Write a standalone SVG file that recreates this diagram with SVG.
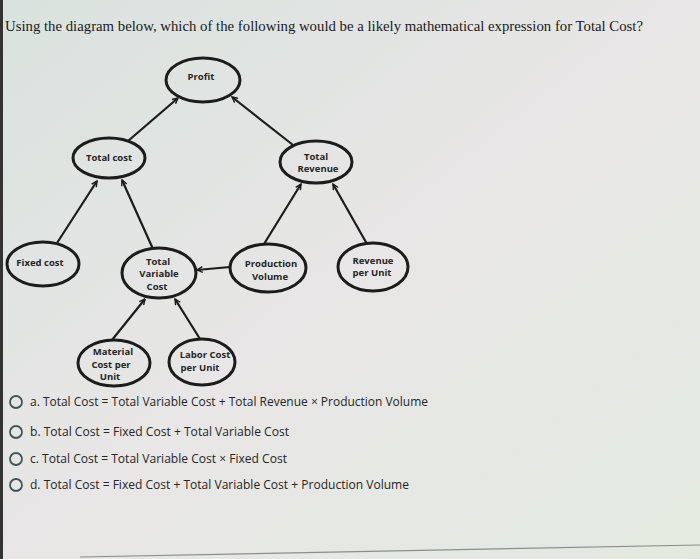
<svg xmlns="http://www.w3.org/2000/svg" width="700" height="559" viewBox="0 0 700 559">
<defs>
<linearGradient id="bg" x1="0" y1="0" x2="1" y2="1">
<stop offset="0" stop-color="#d9e2de"/>
<stop offset="0.5" stop-color="#e8e6e6"/>
<stop offset="1" stop-color="#e2eadf"/>
</linearGradient>
<marker id="ah" viewBox="0 0 10 10" refX="9" refY="5" markerWidth="7" markerHeight="7" orient="auto" markerUnits="userSpaceOnUse">
<path d="M1,1 L9,5 L1,9" fill="none" stroke="#1c1c1c" stroke-width="2"/>
</marker>
</defs>
<style>
.node ellipse{fill:none;stroke:#1c1c1c;stroke-width:3}
.node text{font-family:"Open Sans","Liberation Sans",sans-serif;font-weight:bold;font-size:9.5px;fill:#262626;text-anchor:middle}
.edge{stroke:#1c1c1c;stroke-width:2.2;fill:none;marker-end:url(#ah)}
.opt{font-family:"Open Sans","Liberation Sans",sans-serif;font-size:12.5px;fill:#262626}
.radio{fill:none;stroke:#3e5656;stroke-width:1.8}
</style>
<rect width="700" height="559" fill="url(#bg)"/>
<line x1="1.5" y1="0" x2="1.5" y2="559" stroke="#333" stroke-width="3"/>
<line x1="80" y1="557" x2="700" y2="545" stroke="#8a8f8c" stroke-width="1.2"/>
<text x="5" y="31" font-family="'Liberation Serif',serif" font-size="14.5" fill="#1a1a1a" textLength="638" lengthAdjust="spacingAndGlyphs">Using the diagram below, which of the following would be a likely mathematical expression for Total Cost?</text>

<g id="connectors">
<line class="edge" x1="57" y1="243" x2="97" y2="181"/>
<line class="edge" x1="153" y1="249" x2="122" y2="180"/>
<line class="edge" x1="128" y1="141" x2="178" y2="98"/>
<line class="edge" x1="293" y1="145" x2="232" y2="97"/>
<line class="edge" x1="264" y1="244" x2="301" y2="184"/>
<line class="edge" x1="367" y1="244" x2="333" y2="184"/>
<line class="edge" x1="230" y1="267" x2="197" y2="270"/>
<line class="edge" x1="112" y1="340" x2="145" y2="299"/>
<line class="edge" x1="200" y1="339" x2="175" y2="299"/>
</g>

<g id="profit" class="node"><ellipse cx="203" cy="80" rx="37" ry="22"/><text x="201" y="80">Profit</text></g>
<g id="total-cost" class="node"><ellipse cx="109" cy="158" rx="36" ry="20"/><text x="109" y="161">Total cost</text></g>
<g id="total-revenue" class="node"><ellipse cx="316" cy="162" rx="36" ry="21"/><text x="316" y="160">Total</text><text x="318" y="172">Revenue</text></g>
<g id="fixed-cost" class="node"><ellipse cx="43" cy="264" rx="36" ry="22"/><text x="40" y="266">Fixed cost</text></g>
<g id="total-variable-cost" class="node"><ellipse cx="159" cy="273" rx="37" ry="25"/><text x="158" y="265">Total</text><text x="159" y="277">Variable</text><text x="157" y="290">Cost</text></g>
<g id="production-volume" class="node"><ellipse cx="268" cy="268" rx="38" ry="24"/><text x="271" y="267">Production</text><text x="270" y="280">Volume</text></g>
<g id="revenue-per-unit" class="node"><ellipse cx="373" cy="267" rx="35" ry="24"/><text x="373" y="264">Revenue</text><text x="372" y="276">per Unit</text></g>
<g id="material-cost" class="node"><ellipse cx="114" cy="363" rx="36" ry="23"/><text x="113" y="355">Material</text><text x="111" y="368">Cost per</text><text x="110" y="380">Unit</text></g>
<g id="labor-cost" class="node"><ellipse cx="202" cy="362" rx="33" ry="23"/><text x="205" y="358">Labor Cost</text><text x="200" y="371">per Unit</text></g>

<g id="options">
<circle class="radio" cx="16" cy="402" r="6"/>
<text class="opt" x="30" y="406" textLength="398" lengthAdjust="spacingAndGlyphs">a. Total Cost = Total Variable Cost + Total Revenue × Production Volume</text>
<circle class="radio" cx="16" cy="432" r="6"/>
<text class="opt" x="30" y="436" textLength="259" lengthAdjust="spacingAndGlyphs">b. Total Cost = Fixed Cost + Total Variable Cost</text>
<circle class="radio" cx="16" cy="459" r="6"/>
<text class="opt" x="30" y="463" textLength="257" lengthAdjust="spacingAndGlyphs">c. Total Cost = Total Variable Cost × Fixed Cost</text>
<circle class="radio" cx="16" cy="485" r="6"/>
<text class="opt" x="30" y="489" textLength="379" lengthAdjust="spacingAndGlyphs">d. Total Cost = Fixed Cost + Total Variable Cost + Production Volume</text>
</g>
</svg>
